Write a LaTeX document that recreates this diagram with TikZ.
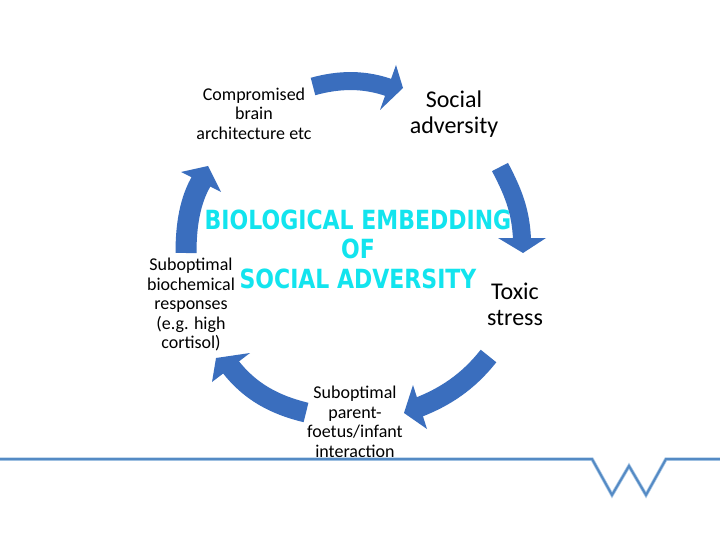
\documentclass[tikz,border=0pt]{standalone}
\usepackage{fontspec}
\setmainfont{Carlito}
\newfontfamily\titlefont{DejaVu Sans}
\definecolor{arrowblue}{RGB}{58,110,190}
\definecolor{titlecyan}{RGB}{18,228,238}
\definecolor{lineblue}{RGB}{84,138,196}
\definecolor{lineglow}{RGB}{170,200,230}
\newcommand{\tall}[1]{\scalebox{1}[1.2]{#1}}
\tikzset{
  body/.style={draw=arrowblue, line width=#1, line cap=butt},
  head/.style={fill=arrowblue, draw=none},
  small/.style={font=\fontsize{18}{19.5}\selectfont, align=center, inner sep=0pt},
  big/.style={font=\fontsize{24}{26.5}\selectfont, align=center, inner sep=0pt},
  title/.style={font=\titlefont\bfseries\fontsize{22}{29.5}\selectfont, text=titlecyan, align=center, inner sep=0pt},
}
\begin{document}
\begin{tikzpicture}[x=1pt,y=-1pt]
\useasboundingbox (0,0) rectangle (720,540);
\fill[white] (0,0) rectangle (720,540);

% labels
\node[small] (brain) at (254,113.5) {Compromised\\brain\\architecture etc};
\node[big] (social) at (454,114) {Social\\adversity};
\node[big] (toxic) at (515,304.5) {Toxic\\stress};
\node[small] (bio) at (191,304.5) {Suboptimal\\biochemical\\responses\\(e.g. high\\cortisol)};
\node[small] (parent) at (355,422) {Suboptimal\\parent-\\foetus/infant\\interaction};

% arrow 1: top
\coordinate (t1) at (313,86.5);
\coordinate (h1) at (390,88);
\draw[body=18pt] (t1) .. controls (340,79) and (365,79) .. (h1);
\fill[head] (396,65) -- (403,88) -- (380,110) -- cycle;

% arrow 2: right
\coordinate (t2) at (500,167);
\coordinate (h2) at (522,240);
\draw[body=18pt] (t2) .. controls (512,190) and (521,210) .. (h2);
\fill[head] (498,238) -- (546,238) -- (523,253) -- cycle;

% arrow 3: bottom right
\coordinate (t3) at (488.5,356);
\coordinate (h3) at (418,407.5);
\draw[body=20pt] (t3) .. controls (468,382) and (445,397) .. (h3);
\fill[head] (413,385) -- (404,413) -- (427,429) -- cycle;

% arrow 4: bottom left
\coordinate (t4) at (306,412.5);
\coordinate (h4) at (230,366);
\draw[body=20pt] (t4) .. controls (275,405) and (250,392) .. (h4);
\fill[head] (250,353) -- (216,358) -- (212,382) -- cycle;

% arrow 5: left
\coordinate (t5) at (186,253);
\coordinate (h5) at (202,180);
\draw[body=21pt] (t5) .. controls (186,225) and (190,200) .. (h5);
\fill[head] (181,172) -- (208,166) -- (221,192) -- cycle;

% title on top of the arrows
\node[title] (center) at (358,249) {\tall{BIOLOGICAL EMBEDDING}\\\tall{OF}\\\tall{SOCIAL ADVERSITY}};

% bottom line
\coordinate (l0) at (0,459);
\coordinate (l1) at (592,459);
\coordinate (l2) at (612,495);
\coordinate (l3) at (629,466);
\coordinate (l4) at (646,495);
\coordinate (l5) at (666,459);
\coordinate (l6) at (720,459);
\draw[lineglow, line width=3.5pt, line join=miter] (l0) -- (l1) -- (l2) -- (l3) -- (l4) -- (l5) -- (l6);
\draw[lineblue, line width=2pt, line join=miter] (l0) -- (l1) -- (l2) -- (l3) -- (l4) -- (l5) -- (l6);
\end{tikzpicture}
\end{document}
